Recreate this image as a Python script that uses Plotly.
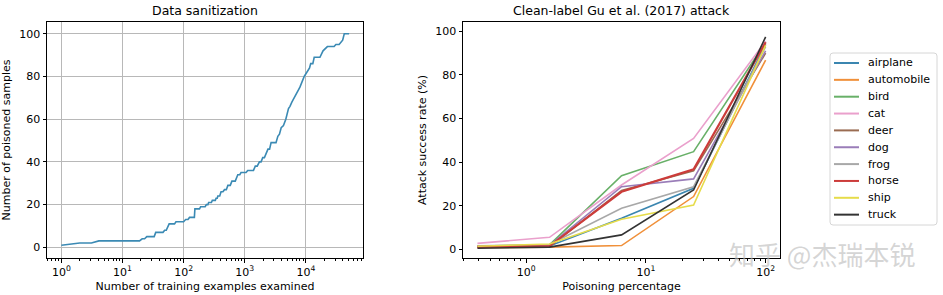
import plotly.graph_objects as go

# ---- Left panel data: vertices of the cumulative curve
examined = [1, 2, 3.1, 4.1, 19, 21, 23, 25, 33, 35, 46, 49, 52, 55, 58, 71, 75, 100, 108, 118,
            125, 150, 153, 182, 190, 225, 236, 250, 257, 285, 295, 330, 340, 355, 363, 390,
            410, 440, 467, 500, 530, 580, 617, 700, 770, 830, 870, 1050, 1120, 1390, 1490,
            1600, 1740, 1850, 1970, 2100, 2230, 2400, 2550, 2700, 3250, 3480, 3700, 3950,
            4300, 4700, 5200, 5500, 5900, 6400, 6900, 7400, 8000, 9400, 10700, 11500, 12000,
            13000, 13700, 17000, 19100, 22500, 29000, 31000, 35000, 37000, 40000, 42500, 51000]
poisoned = [1, 2, 2, 3, 3, 4, 4, 5, 5, 7, 7, 8, 8, 10, 11, 11, 12, 12, 13, 13,
            14, 14, 18, 18, 19, 19, 20, 20, 21, 21, 22, 22, 23, 23, 24, 24,
            26, 26, 27, 27, 29, 29, 31, 31, 34, 34, 35, 35, 36, 36, 38,
            38, 40, 40, 42, 42, 44, 46, 46, 49, 49, 52, 53, 56,
            57, 60, 65, 66, 68, 70, 72, 73, 75, 80, 83, 84, 86,
            86, 89, 89, 92, 94, 94, 95, 95, 96, 97, 100, 100]

# ---- Right panel data
poison_pct = [0.390625, 1.5625, 6.25, 25, 100]
classes = ["airplane", "automobile", "bird", "cat", "deer", "dog", "frog", "horse", "ship", "truck"]
success = {
    "airplane":   [1.2, 1.5, 14.2, 28.0, 94.0],
    "automobile": [0.8, 1.0, 1.7, 24.2, 86.8],
    "bird":       [1.5, 2.0, 33.8, 44.8, 95.0],
    "cat":        [2.7, 5.5, 29.5, 50.9, 95.5],
    "deer":       [1.0, 1.2, 27.0, 36.0, 90.0],
    "dog":        [1.3, 1.8, 28.7, 32.3, 91.0],
    "frog":       [1.6, 2.2, 18.8, 28.7, 93.0],
    "horse":      [1.1, 1.5, 26.4, 36.7, 95.0],
    "ship":       [1.4, 2.4, 13.8, 20.3, 93.7],
    "truck":      [0.5, 1.0, 6.6, 27.2, 97.5],
}
colors = {
    "airplane": "#3b86b0", "automobile": "#f0903a", "bird": "#68b068", "cat": "#eaa0cc",
    "deer": "#9a6c52", "dog": "#9a7db8", "frog": "#a8a8a8", "horse": "#cc3c3a",
    "ship": "#e6dc4a", "truck": "#333333",
}
widths = {c: 1.6 for c in classes}
widths["horse"] = 2.2

left_xticks = [1, 10, 100, 1000, 10000]
left_xlabels = ["10<sup>0</sup>", "10<sup>1</sup>", "10<sup>2</sup>", "10<sup>3</sup>", "10<sup>4</sup>"]
right_xticks = [1, 10, 100]
right_xlabels = ["10<sup>0</sup>", "10<sup>1</sup>", "10<sup>2</sup>"]
yticks = [0, 20, 40, 60, 80, 100]
mantissas = [2, 3, 4, 5, 6, 7, 8, 9]
left_minor = [m * 10 ** e for e in range(-1, 5) for m in mantissas]
right_minor = [m * 10 ** e for e in range(-1, 3) for m in mantissas]

FONT = "DejaVu Sans"
W, H = 943, 295

fig = go.Figure()
fig.add_trace(go.Scatter(x=examined, y=poisoned, mode="lines",
                         line=dict(color="#3b8ab4", width=1.6), showlegend=False,
                         xaxis="x", yaxis="y"))
for c in classes:
    fig.add_trace(go.Scatter(x=poison_pct, y=success[c], mode="lines", name=c,
                             line=dict(color=colors[c], width=widths[c]),
                             showlegend=False, xaxis="x2", yaxis="y2"))

ax_common = dict(showline=True, linecolor="black", linewidth=1, mirror=True,
                 ticks="outside", ticklen=3.5, tickcolor="black", zeroline=False,
                 tickfont=dict(family=FONT, size=11, color="black"))
ydom = [1 - 258 / H, 1 - 22 / H]

fig.update_layout(
    width=W, height=H, margin=dict(l=0, r=0, t=0, b=0),
    paper_bgcolor="white", plot_bgcolor="white",
    font=dict(family=FONT, size=11, color="black"),
    showlegend=False,
    xaxis=dict(type="log", domain=[47 / W, 363 / W], range=[-0.235, 4.935],
               tickvals=left_xticks, ticktext=left_xlabels,
               showgrid=True, gridcolor="#b8b8b8", gridwidth=1,
               minor=dict(tickvals=left_minor, ticks="outside", ticklen=2,
                          tickcolor="black", showgrid=False),
               title=dict(text="Number of training examples examined", standoff=4,
                          font=dict(family=FONT, size=11)),
               anchor="y", **ax_common),
    yaxis=dict(domain=ydom, range=[-5, 105.5], tickvals=yticks,
               showgrid=True, gridcolor="#b8b8b8", gridwidth=1,
               title=dict(text="Number of poisoned samples", standoff=6,
                          font=dict(family=FONT, size=11)),
               anchor="x", **ax_common),
    xaxis2=dict(type="log", domain=[463 / W, 780 / W], range=[-0.529, 2.12],
                tickvals=right_xticks, ticktext=right_xlabels, showgrid=False,
                minor=dict(tickvals=right_minor, ticks="outside", ticklen=2,
                           tickcolor="black", showgrid=False),
                title=dict(text="Poisoning percentage", standoff=4,
                           font=dict(family=FONT, size=11)),
                anchor="y2", **ax_common),
    yaxis2=dict(domain=ydom, range=[-4, 104.3], tickvals=yticks, showgrid=False,
                title=dict(text="Attack success rate (%)", standoff=6,
                           font=dict(family=FONT, size=11)),
                anchor="x2", **ax_common),
)

# ---- Legend drawn as a matplotlib-style box (compact spacing)
def px(x):
    return x / W

def py(y):
    return 1 - y / H

bx0, bx1, by0, by1, r = 830, 937, 53, 225, 3
path = (f"M {px(bx0 + r)} {py(by0)} L {px(bx1 - r)} {py(by0)} "
        f"Q {px(bx1)} {py(by0)} {px(bx1)} {py(by0 + r)} L {px(bx1)} {py(by1 - r)} "
        f"Q {px(bx1)} {py(by1)} {px(bx1 - r)} {py(by1)} L {px(bx0 + r)} {py(by1)} "
        f"Q {px(bx0)} {py(by1)} {px(bx0)} {py(by1 - r)} L {px(bx0)} {py(by0 + r)} "
        f"Q {px(bx0)} {py(by0)} {px(bx0 + r)} {py(by0)} Z")
fig.add_shape(type="path", path=path, xref="paper", yref="paper",
              line=dict(color="#d6d6d6", width=1), fillcolor="rgba(255,255,255,0.85)")
row0, step = 63.0, 16.85
for i, c in enumerate(classes):
    yy = row0 + i * step
    fig.add_shape(type="line", xref="paper", yref="paper",
                  x0=px(834), x1=px(859), y0=py(yy), y1=py(yy),
                  line=dict(color=colors[c], width=2))
    fig.add_annotation(text=c, x=px(866), y=py(yy), xref="paper", yref="paper",
                       showarrow=False, xanchor="left", yanchor="middle",
                       font=dict(family=FONT, size=11, color="black"))

fig.add_annotation(text="Data sanitization", x=205 / W, y=1 - 11 / H, xref="paper", yref="paper",
                   showarrow=False, font=dict(family=FONT, size=12.5), xanchor="center", yanchor="middle")
fig.add_annotation(text="Clean-label Gu et al. (2017) attack", x=621 / W, y=1 - 11 / H,
                   xref="paper", yref="paper", showarrow=False,
                   font=dict(family=FONT, size=12.5), xanchor="center", yanchor="middle")
fig.add_annotation(text="知乎 @杰瑞本锐", x=822 / W, y=1 - 253 / H, xref="paper", yref="paper",
                   showarrow=False, font=dict(family="Noto Sans CJK SC", size=26,
                                              color="rgba(185,185,185,0.6)"),
                   xanchor="center", yanchor="middle")

fig.write_html("out.html")
